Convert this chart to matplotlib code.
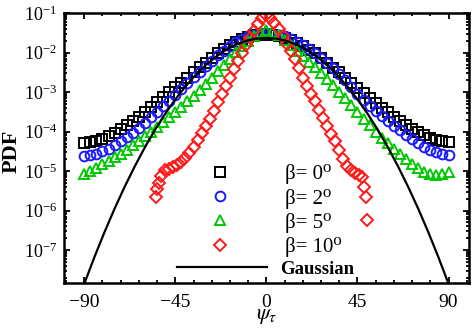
import numpy as np
import matplotlib
matplotlib.use('Agg')
import matplotlib.pyplot as plt
from matplotlib.ticker import MultipleLocator, LogLocator, NullFormatter

plt.rcParams['font.family'] = ['Liberation Serif', 'DejaVu Serif']
plt.rcParams['mathtext.fontset'] = 'stix'

# angle grid (deg) shared by beta = 0, 2, 5
psi = np.arange(-90, 91, 3)

# log10(PDF)
logpdf_b0 = [-4.28, -4.27, -4.24, -4.19, -4.12, -4.04, -3.94, -3.84, -3.74, -3.62,
             -3.50, -3.37, -3.25, -3.12, -3.00, -2.88, -2.76, -2.63, -2.50, -2.37,
             -2.25, -2.13, -2.01, -1.90, -1.80, -1.72, -1.65, -1.60, -1.56, -1.54,
             -1.53,
             -1.55, -1.58, -1.63, -1.69, -1.76, -1.84, -1.92, -2.02, -2.13, -2.25,
             -2.38, -2.50, -2.63, -2.76, -2.90, -3.03, -3.16, -3.28, -3.40, -3.51,
             -3.62, -3.73, -3.83, -3.93, -4.02, -4.09, -4.15, -4.20, -4.24, -4.27]
logpdf_b2 = [-4.62, -4.60, -4.56, -4.50, -4.43, -4.35, -4.25, -4.14, -4.03, -3.91,
             -3.78, -3.64, -3.50, -3.36, -3.22, -3.07, -2.92, -2.77, -2.62, -2.48,
             -2.34, -2.20, -2.07, -1.95, -1.84, -1.74, -1.66, -1.59, -1.54, -1.51,
             -1.50,
             -1.51, -1.54, -1.59, -1.65, -1.72, -1.81, -1.91, -2.02, -2.14, -2.27,
             -2.40, -2.54, -2.68, -2.88, -3.04, -3.19, -3.34, -3.48, -3.61, -3.73,
             -3.85, -3.97, -4.08, -4.19, -4.28, -4.38, -4.46, -4.52, -4.57, -4.60]
logpdf_b5 = [-5.08, -5.00, -4.92, -4.83, -4.74, -4.65, -4.56, -4.46, -4.35, -4.24,
             -4.12, -4.00, -3.88, -3.76, -3.63, -3.50, -3.37, -3.23, -3.09, -2.94,
             -2.79, -2.63, -2.47, -2.31, -2.15, -1.99, -1.84, -1.70, -1.57, -1.47,
             -1.43,
             -1.47, -1.56, -1.68, -1.81, -1.95, -2.09, -2.23, -2.37, -2.52, -2.67,
             -2.83, -2.99, -3.16, -3.33, -3.50, -3.67, -3.84, -4.00, -4.15, -4.30,
             -4.44, -4.57, -4.70, -4.82, -4.93, -5.02, -5.08, -5.10, -5.07, -5.03]

# beta = 10 has its own angles
psi_b10 = [-54.5, -54, -53, -52, -50, -48, -46, -44, -42, -40, -38, -36, -34, -32,
           -30, -28, -26, -24, -22, -20, -18, -16, -14, -12, -10, -8, -6, -4, -2,
           0, 2, 4, 6, 8, 10, 12, 14, 16, 18, 20, 22, 24, 26, 28, 30, 32, 34, 36,
           38, 40, 42, 44, 46, 47, 48, 49, 49.5]
logpdf_b10 = [-5.66, -5.45, -5.30, -5.12, -4.98, -4.94, -4.90, -4.84, -4.76, -4.66,
              -4.53, -4.38, -4.21, -4.04, -3.86, -3.67, -3.47, -3.26, -3.05, -2.84,
              -2.63, -2.42, -2.21, -2.01, -1.81, -1.62, -1.44, -1.27, -1.12,
              -1.05,
              -1.12, -1.25, -1.40, -1.58, -1.77, -1.97, -2.17, -2.39, -2.64, -2.85,
              -3.04, -3.23, -3.44, -3.66, -3.87, -4.06, -4.25, -4.47, -4.70, -4.86,
              -4.97, -5.04, -5.10, -5.16, -5.41, -5.66, -6.24]

# Gaussian reference curve
psi_gauss = np.arange(-95, 96, 5)
pdf_gauss = [2.7e-9, 1.39e-8, 6.56e-8, 2.83e-7, 1.12e-6, 4.03e-6, 1.33e-5, 4.03e-5,
             1.12e-4, 2.83e-4, 6.56e-4, 1.39e-3, 2.71e-3, 4.81e-3, 7.83e-3, 1.17e-2,
             1.59e-2, 1.99e-2, 2.27e-2, 2.37e-2, 2.27e-2, 1.99e-2, 1.59e-2, 1.17e-2,
             7.83e-3, 4.81e-3, 2.71e-3, 1.39e-3, 6.56e-4, 2.83e-4, 1.12e-4, 4.03e-5,
             1.33e-5, 4.03e-6, 1.12e-6, 2.83e-7, 6.56e-8, 1.39e-8, 2.7e-9]

labels = ['β= 0⁰', 'β= 2⁰', 'β= 5⁰', 'β= 10⁰']

fig = plt.figure(figsize=(4.74, 3.30), dpi=100)
ax = fig.add_axes([0.135, 0.142, 0.854, 0.818])

mk = dict(linestyle='none', markerfacecolor='none', markersize=7, markeredgewidth=1.4)
h0, = ax.plot(psi, 10 ** np.array(logpdf_b0), marker='s', color='black', **mk)
h1, = ax.plot(psi, 10 ** np.array(logpdf_b2), marker='o', color='#1a1aff', **mk)
h2, = ax.plot(psi, 10 ** np.array(logpdf_b5), marker='^', color='#00c800', **mk)
h3, = ax.plot(psi_b10, 10 ** np.array(logpdf_b10), marker='D', color='#ff1a1a',
              linestyle='none', markerfacecolor='none', markersize=6.5, markeredgewidth=1.4)
hg, = ax.plot(psi_gauss, pdf_gauss, color='black', lw=1.6, zorder=5)

ax.set_yscale('log')
ax.set_xlim(-100, 100)
ax.set_ylim(1.45e-8, 1e-1)
ax.xaxis.set_major_locator(MultipleLocator(45))
ax.xaxis.set_minor_locator(MultipleLocator(9))
ax.yaxis.set_major_locator(LogLocator(base=10, numticks=12))
ax.yaxis.set_minor_locator(LogLocator(base=10, subs=np.arange(2, 10), numticks=12))
ax.yaxis.set_minor_formatter(NullFormatter())

ax.tick_params(which='both', direction='in', top=True, right=True, width=1.3)
ax.tick_params(which='major', length=4.5)
ax.tick_params(which='minor', length=2.5)
ax.tick_params(axis='x', labelsize=14, pad=8)
ax.tick_params(axis='y', labelsize=13, pad=5)
for s in ax.spines.values():
    s.set_linewidth(1.8)

ax.set_ylabel('PDF', fontsize=16, fontweight='bold')
ax.yaxis.set_label_coords(-0.104, 0.49)
ax.set_xlabel(r'$\psi_\tau$', fontsize=16)
ax.xaxis.set_label_coords(0.5, -0.09)

leg1 = ax.legend([h0, h1, h2, h3], labels, loc='upper left', bbox_to_anchor=(0.365, 0.44),
                 frameon=False, fontsize=15, handlelength=0.8, handletextpad=2.7,
                 labelspacing=0.2, borderpad=0, borderaxespad=0)
ax.add_artist(leg1)
ax.legend([hg], ['Gaussian'], loc='upper left', bbox_to_anchor=(0.279, 0.084),
          frameon=False, prop={'size': 13.5, 'weight': 'bold'}, handlelength=4.8,
          handletextpad=0.7, borderpad=0, borderaxespad=0)

fig.savefig('out.png', dpi=100)
